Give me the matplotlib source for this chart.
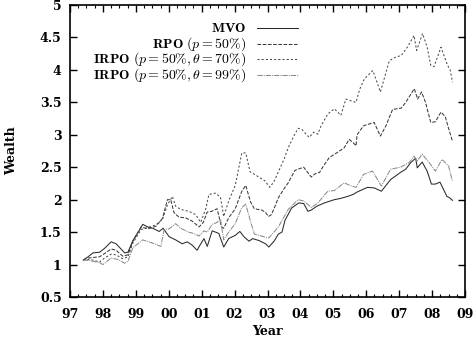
import matplotlib
matplotlib.use("Agg")
import matplotlib.pyplot as plt
from matplotlib.lines import Line2D
import numpy as np

# wealth paths (time = years after 1997)
mvo_t = [0.40, 0.55, 0.70, 0.90, 1.05, 1.25, 1.40, 1.55, 1.66, 1.76, 1.91, 2.11, 2.21, 2.36, 2.51,
         2.71, 2.83, 3.01, 3.21, 3.41, 3.56, 3.71, 3.86, 3.95, 4.07, 4.17, 4.32, 4.52, 4.67, 4.82,
         5.02, 5.16, 5.30, 5.44, 5.55, 5.74, 5.94, 6.04, 6.20, 6.33, 6.44, 6.53, 6.73, 6.95, 7.10,
         7.23, 7.33, 7.50, 7.73, 8.03, 8.23, 8.43, 8.60, 8.73, 9.04, 9.25, 9.46, 9.74, 10.04, 10.20,
         10.35, 10.50, 10.55, 10.70, 10.85, 10.98, 11.10, 11.24, 11.45, 11.53, 11.62]
mvo_w = [1.07, 1.12, 1.18, 1.19, 1.25, 1.35, 1.32, 1.24, 1.18, 1.19, 1.37, 1.53, 1.62, 1.58, 1.56,
         1.51, 1.56, 1.43, 1.38, 1.32, 1.35, 1.30, 1.22, 1.30, 1.40, 1.28, 1.52, 1.48, 1.27, 1.40,
         1.45, 1.51, 1.42, 1.36, 1.40, 1.37, 1.32, 1.27, 1.36, 1.47, 1.50, 1.68, 1.87, 1.95, 1.94,
         1.82, 1.84, 1.90, 1.95, 2.00, 2.02, 2.05, 2.08, 2.12, 2.19, 2.18, 2.13, 2.31, 2.42, 2.47,
         2.57, 2.64, 2.49, 2.58, 2.44, 2.24, 2.24, 2.27, 2.05, 2.03, 1.99]

rpo_t = [0.40, 0.55, 0.90, 1.05, 1.25, 1.40, 1.60, 1.76, 1.91, 2.16, 2.36, 2.61, 2.81, 2.96, 3.06,
         3.16, 3.31, 3.51, 3.71, 3.92, 4.05, 4.17, 4.30, 4.47, 4.60, 4.67, 4.82, 5.02, 5.22, 5.34,
         5.48, 5.60, 5.82, 5.93, 6.03, 6.12, 6.23, 6.33, 6.53, 6.63, 6.83, 6.93, 7.10, 7.25, 7.33,
         7.45, 7.58, 7.70, 7.88, 8.13, 8.33, 8.48, 8.60, 8.69, 8.72, 8.92, 9.24, 9.43, 9.60, 9.80,
         10.06, 10.20, 10.36, 10.46, 10.56, 10.68, 10.80, 10.96, 11.10, 11.27, 11.40, 11.50, 11.62]
rpo_w = [1.07, 1.10, 1.12, 1.17, 1.24, 1.22, 1.13, 1.15, 1.36, 1.58, 1.55, 1.59, 1.71, 2.00, 2.00,
         1.80, 1.73, 1.72, 1.67, 1.58, 1.65, 1.81, 1.82, 1.86, 1.58, 1.56, 1.72, 1.86, 2.13, 2.22,
         1.97, 1.86, 1.84, 1.81, 1.74, 1.77, 1.90, 2.03, 2.19, 2.26, 2.45, 2.47, 2.50, 2.40, 2.35,
         2.40, 2.42, 2.52, 2.65, 2.73, 2.80, 2.93, 2.88, 2.83, 3.00, 3.14, 3.19, 2.98, 3.14, 3.39,
         3.41, 3.50, 3.63, 3.71, 3.55, 3.66, 3.50, 3.19, 3.20, 3.35, 3.28, 3.10, 2.90]

irpo70_t = [0.40, 0.60, 0.90, 1.05, 1.25, 1.40, 1.60, 1.76, 1.91, 2.16, 2.36, 2.61, 2.81, 2.96, 3.11,
            3.21, 3.36, 3.61, 3.82, 3.97, 4.12, 4.22, 4.42, 4.57, 4.67, 4.82, 5.02, 5.22, 5.34, 5.47,
            5.67, 5.92, 6.07, 6.20, 6.33, 6.50, 6.63, 6.80, 6.93, 7.05, 7.17, 7.27, 7.40, 7.53, 7.63,
            7.83, 8.03, 8.23, 8.38, 8.55, 8.69, 8.80, 8.94, 9.20, 9.43, 9.70, 9.90, 10.06, 10.25, 10.45,
            10.53, 10.71, 10.85, 10.96, 11.06, 11.27, 11.47, 11.55, 11.62]
irpo70_w = [1.07, 1.08, 1.04, 1.10, 1.16, 1.15, 1.09, 1.12, 1.33, 1.54, 1.57, 1.61, 1.70, 1.92, 2.05,
            1.90, 1.85, 1.82, 1.77, 1.65, 1.85, 2.08, 2.10, 2.04, 1.74, 1.98, 2.22, 2.72, 2.72, 2.43,
            2.37, 2.29, 2.19, 2.28, 2.43, 2.62, 2.80, 2.98, 3.10, 3.08, 3.01, 2.96, 3.04, 3.01, 3.14,
            3.32, 3.40, 3.30, 3.55, 3.52, 3.50, 3.70, 3.86, 3.99, 3.66, 4.14, 4.20, 4.22, 4.35, 4.53,
            4.30, 4.56, 4.35, 4.07, 4.05, 4.35, 4.07, 4.00, 3.81]

irpo99_t = [0.40, 0.60, 0.90, 1.00, 1.25, 1.45, 1.66, 1.76, 1.91, 2.21, 2.51, 2.76, 2.86, 3.01, 3.21,
            3.36, 3.60, 3.75, 3.92, 4.07, 4.17, 4.32, 4.47, 4.57, 4.67, 4.82, 5.02, 5.22, 5.34, 5.47,
            5.60, 5.80, 6.04, 6.33, 6.63, 6.93, 7.10, 7.33, 7.53, 7.83, 8.03, 8.33, 8.50, 8.69, 8.92,
            9.19, 9.46, 9.74, 10.04, 10.30, 10.45, 10.55, 10.70, 10.90, 11.10, 11.30, 11.50, 11.62]
irpo99_w = [1.07, 1.06, 1.03, 1.00, 1.10, 1.08, 1.02, 1.05, 1.26, 1.38, 1.33, 1.28, 1.54, 1.55, 1.63,
            1.56, 1.50, 1.48, 1.44, 1.52, 1.50, 1.62, 1.65, 1.70, 1.38, 1.50, 1.63, 1.88, 1.93, 1.69,
            1.47, 1.44, 1.41, 1.58, 1.85, 2.00, 1.98, 1.88, 1.95, 2.13, 2.14, 2.26, 2.22, 2.19, 2.39,
            2.44, 2.21, 2.47, 2.50, 2.57, 2.67, 2.60, 2.70, 2.58, 2.44, 2.62, 2.52, 2.28]

years = list(range(1997, 2010))
year_labels = ["%02d" % (y % 100) for y in years]
wealth_ticks = [0.5, 1, 1.5, 2, 2.5, 3, 3.5, 4, 4.5, 5]

plt.rcParams["mathtext.fontset"] = "cm"
plt.rcParams["font.family"] = "DejaVu Serif"

W, H = 474, 339
fig = plt.figure(figsize=(W / 100, H / 100), dpi=100)
ax = fig.add_axes([70 / W, 1 - 297 / H, 395 / W, 292 / H])

series = [
    (mvo_t, mvo_w, r"$\mathbf{MVO}$", "-", "#2a2a2a"),
    (rpo_t, rpo_w, r"$\mathbf{RPO}\ (p = 50\%)$", (0, (3.5, 1.5)), "#3a3a3a"),
    (irpo70_t, irpo70_w, r"$\mathbf{IRPO}\ (p = 50\%, \theta = 70\%)$", (0, (2, 2)), "#4a4a4a"),
    (irpo99_t, irpo99_w, r"$\mathbf{IRPO}\ (p = 50\%, \theta = 99\%)$", (0, (5, 1, 1, 1)), "#8a8a8a"),
]
for t, w, lab, ls, col in series:
    ax.plot(1997 + np.array(t), w, linestyle=ls, color=col, lw=0.75)

# gnuplot-style key: text right-aligned, sample to the right
for i, (t, w, lab, ls, col) in enumerate(series):
    yk = 1 - (28 + 15.7 * i) / H
    fig.text(246 / W, yk, lab, ha="right", va="center", fontsize=10)
    fig.add_artist(Line2D([257 / W, 298 / W], [yk, yk], transform=fig.transFigure,
                          linestyle=ls, color=col, lw=0.75))

ax.set_xlim(1997, 2009)
ax.set_ylim(0.5, 5)
ax.set_xticks(years)
ax.set_xticklabels(year_labels)
ax.set_xticks(np.arange(1997, 2009.01, 0.25), minor=True)
ax.set_yticks(wealth_ticks)
ax.set_yticklabels(["%g" % v for v in wealth_ticks])
ax.tick_params(which="both", direction="in", top=True, right=True, labelsize=9)
ax.tick_params(which="major", length=5, width=1)
ax.tick_params(which="minor", length=2.5, width=0.8)
ax.tick_params(axis="x", pad=8)
ax.tick_params(axis="y", pad=6)
for s in ax.spines.values():
    s.set_linewidth(1.2)
for lbl in ax.get_xticklabels() + ax.get_yticklabels():
    lbl.set_fontweight("bold")

ax.set_xlabel("Year", fontsize=9, fontweight="bold", labelpad=3)
ax.set_ylabel("Wealth", fontsize=9, fontweight="bold", labelpad=16)

fig.savefig("out.png", dpi=100)
